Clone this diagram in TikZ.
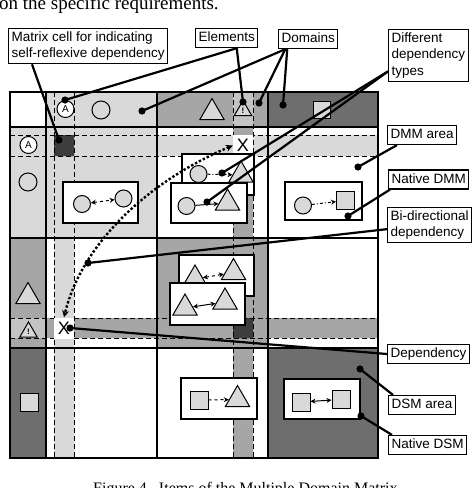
\documentclass[tikz,border=0pt]{standalone}
\usepackage{fontspec}
\setmainfont{Liberation Sans}
\newfontfamily\pagefont{Liberation Serif}
\usetikzlibrary{shapes.geometric,arrows.meta}

\colorlet{circdom}{black!15}
\colorlet{tridom}{black!35}
\colorlet{sqdom}{black!57}
\colorlet{headband}{black!23}
\colorlet{selfdep}{black!76}

\begin{document}
\begin{tikzpicture}[x=1pt,y=-1pt,
      tag/.style={draw,line width=1.2pt,fill=white,inner xsep=3pt,inner ysep=3pt,
        align=left,font=\fontsize{13.5}{16.5}\selectfont},
      one line/.style={text height=10pt,text depth=3pt},
      pointer/.style={line width=2.2pt},
      band line/.style={line width=0.9pt,dash pattern=on 5pt off 3pt},
      grid line/.style={line width=1.3pt},
      sub box/.style={draw,line width=1.2pt,fill=white},
      circ/.style={circle,draw,line width=1pt,fill=circdom,minimum size=17pt,inner sep=0pt},
      sq/.style={rectangle,draw,line width=1pt,fill=circdom,minimum size=18pt,inner sep=0pt},
      tri/.style={regular polygon,regular polygon sides=3,draw,line width=1pt,fill=circdom,
        minimum size=28pt,inner sep=0pt},
      small tri/.style={tri,minimum size=20pt,font=\fontsize{8}{8}\selectfont\bfseries},
      elem/.style={circle,draw,line width=1pt,fill=white,minimum size=17pt,inner sep=0pt,
        font=\fontsize{10}{10}\selectfont},
      xcell/.style={fill=white,minimum width=20pt,minimum height=21pt,inner sep=0pt,
        font=\fontsize{18}{18}\selectfont},
      dep/.style={line width=1pt,-{Stealth[length=5pt,width=5pt]}},
      bidep/.style={line width=1pt,{Stealth[length=5pt,width=5pt]}-{Stealth[length=5pt,width=5pt]}}]
    \useasboundingbox (0,0) rectangle (474,488);
    \clip (0,0) rectangle (474,488);
    % text of the page, cut by the figure
    \node[anchor=base west,inner sep=0pt,font=\pagefont\fontsize{19}{22}\selectfont] (page top) at (-1,9) {on the specific requirements.};
    \node[anchor=base west,inner sep=0pt,font=\pagefont\fontsize{16}{19}\selectfont] (caption) at (93,493) {Figure 4.\ \ Items of the Multiple Domain Matrix};
    % domains
    \fill[circdom] (46,92) rectangle (157,127) (10,127) rectangle (46,238) (46,127) rectangle (157,238);
    \fill[tridom] (157,92) rectangle (268,127) (10,238) rectangle (46,348) (157,238) rectangle (268,348);
    \fill[sqdom] (268,92) rectangle (378,127) (10,348) rectangle (46,458) (268,348) rectangle (378,458);
    % element rows and columns
    \fill[circdom] (54,92) rectangle (74,458) (10,135) rectangle (378,156);
    \fill[tridom] (233,92) rectangle (253,458) (10,318) rectangle (378,338);
    \fill[headband] (233,92) rectangle (253,127) (10,318) rectangle (46,338);
    \fill[selfdep] (54,135) rectangle (74,156) (233,318) rectangle (253,338);
    \foreach \x in {54,74,233,253}
      \draw[band line] (\x,92) -- (\x,458);
    \foreach \y in {135,156,318,338}
      \draw[band line] (10,\y) -- (378,\y);
    \foreach \x in {46,157,268}
      \draw[grid line] (\x,92) -- (\x,458);
    \foreach \y in {127,238,348}
      \draw[grid line] (10,\y) -- (378,\y);
    \draw[line width=2pt] (10,92) rectangle (378,458);
    % headers
    \node[elem] (A top) at (65.5,109) {A};
    \node[circ,minimum size=18pt] (circ top) at (101,110) {};
    \node[tri] (tri top) at (212,112.5) {};
    \node[small tri] (warn top) at (243,110.5) {!};
    \node[sq,minimum size=17pt] (sq top) at (322,110) {};
    \node[elem] (A left) at (28.5,145) {A};
    \node[circ,minimum size=18pt] (circ left) at (28,182) {};
    \node[tri] (tri left) at (28,296.5) {};
    \node[small tri] (warn left) at (28.5,332) {!};
    \node[sq] (sq left) at (29,402) {};
    \node[xcell] (x right) at (243,145.5) {X};
    \node[xcell] (x down) at (64,328) {X};
    % native DSMs and DMMs
    \draw[sub box] (63,182) rectangle (138,223);
    \node[circ] (cc1) at (82,204) {};
    \node[circ] (cc2) at (123.5,198.5) {};
    \draw[bidep,dashed] (cc1) -- (cc2);
    \draw[sub box] (182,154) rectangle (254,195);
    \node[circ] (ct1) at (198.5,174) {};
    \node[tri] (ct2) at (241,175) {};
    \draw[dep,dash dot] (ct1) -- (ct2);
    \draw[sub box] (171,183) rectangle (247,223);
    \node[circ] (ct3) at (186.5,206) {};
    \node[tri] (ct4) at (227.5,203) {};
    \draw[dep] (ct3) -- (ct4);
    \draw[sub box] (285,182) rectangle (362,220);
    \node[circ] (cs1) at (303,205.5) {};
    \node[sq] (cs2) at (345.5,200.5) {};
    \draw[dep,dash dot] (cs1) -- (cs2);
    \draw[sub box] (179,255) rectangle (254,296);
    \node[tri] (tt1) at (195,279) {};
    \node[tri] (tt2) at (233.5,272.5) {};
    \draw[bidep,dashed] (tt1) -- (tt2);
    \draw[sub box] (170,283) rectangle (245,325);
    \node[tri] (tt3) at (185,308) {};
    \node[tri] (tt4) at (225,302) {};
    \draw[bidep] (tt3) -- (tt4);
    \draw[sub box] (181,378) rectangle (257,419);
    \node[sq] (st1) at (199,400) {};
    \node[tri] (st2) at (237.5,399.5) {};
    \draw[dep,dashed] (st1) -- (st2);
    \draw[sub box] (284,379) rectangle (360,419);
    \node[sq] (ss1) at (301,402) {};
    \node[sq] (ss2) at (341,399.5) {};
    \draw[bidep] (ss1) -- (ss2);
    % symmetric dependency
    \draw[line width=2.4pt,dotted,{Stealth[length=7pt,width=7pt]}-{Stealth[length=7pt,width=7pt]}]
      (x right.west) .. controls (140,185) and (80,250) .. (x down.north);
    % labels
    \node[tag,anchor=north west] (self cell) at (8,28) {Matrix cell for indicating\\self-reflexive dependency};
    \node[tag,one line,anchor=north west] (elements) at (195,28) {Elements};
    \node[tag,one line,anchor=north west] (domains) at (278,29) {Domains};
    \node[tag,anchor=north west] (dep types) at (388,29) {Different\\dependency\\types};
    \node[tag,one line,anchor=west] (dmm area) at (387,135) {DMM area};
    \node[tag,one line,anchor=west] (native dmm) at (388,179.5) {Native DMM};
    \node[tag,anchor=north west] (bidir) at (387,207) {Bi-directional\\dependency};
    \node[tag,one line,anchor=west] (dependency) at (387,354) {Dependency};
    \node[tag,one line,anchor=west] (dsm area) at (388,405) {DSM area};
    \node[tag,one line,anchor=west] (native dsm) at (388,445) {Native DSM};
    % pointers
    \coordinate (p self) at (59,140);
    \coordinate (p A) at (65,100);
    \coordinate (p warn) at (243,102);
    \coordinate (p circ) at (142,111);
    \coordinate (p tri) at (259,103);
    \coordinate (p sq) at (283,105);
    \coordinate (p type1) at (222,173);
    \coordinate (p type2) at (207,202);
    \coordinate (p dmm) at (358,167);
    \coordinate (p native dmm) at (348,216);
    \coordinate (p bidir) at (88,263);
    \coordinate (p dep) at (70,328);
    \coordinate (p dsm) at (360,369);
    \coordinate (p native dsm) at (361,416);
    \draw[pointer] ([xshift=24pt]self cell.south west) -- (p self);
    \draw[pointer] ([xshift=10pt]elements.south) -- (p A);
    \draw[pointer] ([xshift=10pt]elements.south) -- (p warn);
    \draw[pointer] ([xshift=-23pt]domains.south) -- (p circ);
    \draw[pointer] ([xshift=-23pt]domains.south) -- (p tri);
    \draw[pointer] ([xshift=-21pt]domains.south) -- (p sq);
    \draw[pointer] ([yshift=-16pt]dep types.west) -- (p type1);
    \draw[pointer] ([yshift=-16pt]dep types.west) -- (p type2);
    \draw[pointer] ([xshift=10pt]dmm area.south west) -- (p dmm);
    \draw[pointer] ([xshift=2pt]native dmm.south west) -- (p native dmm);
    \draw[pointer] ([yshift=-4pt]bidir.west) -- (p bidir);
    \draw[pointer] (dependency.west) -- (p dep);
    \draw[pointer] ([xshift=5pt]dsm area.north west) -- (p dsm);
    \draw[pointer] ([xshift=4pt]native dsm.north west) -- (p native dsm);
    \foreach \p in {p self,p A,p warn,p circ,p tri,p sq,p type1,p type2,p dmm,p native dmm,p bidir,p dep,p dsm,p native dsm}
      \fill (\p) circle[radius=3.6pt];
    \end{tikzpicture}
\end{document}
